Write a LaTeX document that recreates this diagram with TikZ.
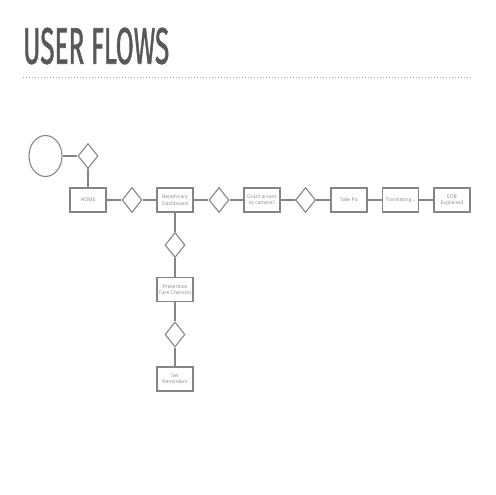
\documentclass[tikz,border=0pt]{standalone}
\usepackage{fontspec}
\setmainfont{Open Sans}
\newfontfamily\titlefont[FakeBold=1.6]{Fira Sans}
\usetikzlibrary{shapes.geometric}

\definecolor{inkgray}{HTML}{585858}
\definecolor{linegray}{HTML}{858585}
\definecolor{dotgray}{HTML}{A8A8A8}

\begin{document}
\begin{tikzpicture}[x=1pt, y=-1pt,
        box/.style={draw=linegray, line width=1.5pt, minimum width=36pt, minimum height=24pt,
            inner sep=1pt, align=center, text=linegray, font=\fontsize{5}{6.4}\selectfont},
        decision/.style={diamond, draw=linegray, line width=1.1pt, minimum width=20pt,
            minimum height=25pt, inner sep=0pt},
        link/.style={draw=linegray, line width=1.1pt}]
        \useasboundingbox (0,0) rectangle (495,495);
        % title
        \node [anchor=north west, inner sep=0pt, text=inkgray] (title) at (23,27.5)
            {\resizebox{146pt}{36pt}{\titlefont USER FLOWS}};
        \draw [dotgray, line width=1.2pt, dash pattern=on 1pt off 2pt] (23,77.5) -- (472,77.5);
        % flow
        \node [ellipse, draw=linegray, line width=1.1pt, minimum width=33pt, minimum height=41pt] (start) at (45.5,156) {};
        \node [decision] (d1) at (88,156) {};
        \node [box] (home) at (88,200) {HOME};
        \node [decision] (d2) at (132,200) {};
        \node [box] (dash) at (175,200) {Beneficiary\\Dashboard};
        \node [decision] (d3) at (219,200) {};
        \node [box] (grant) at (262,200) {Grant access\\to camera?};
        \node [decision] (d4) at (305.5,200) {};
        \node [box] (pic) at (349,200) {Take Pic};
        \node [box] (trans) at (400.5,200) {Translating...};
        \node [box] (eob) at (452,200) {EOB\\Explained};
        \node [decision] (d5) at (175,245) {};
        \node [box] (check) at (175,289.5) {Preventive\\Care Checklist};
        \node [decision] (d6) at (175,334.5) {};
        \node [box] (remind) at (175,379) {Set\\Reminders};
        \foreach \a/\b in {start/d1, d1/home, home/d2, d2/dash, dash/d3, d3/grant, grant/d4,
            d4/pic, pic/trans, trans/eob, dash/d5, d5/check, check/d6, d6/remind}
            \draw [link] (\a) -- (\b);
    \end{tikzpicture}
\end{document}
